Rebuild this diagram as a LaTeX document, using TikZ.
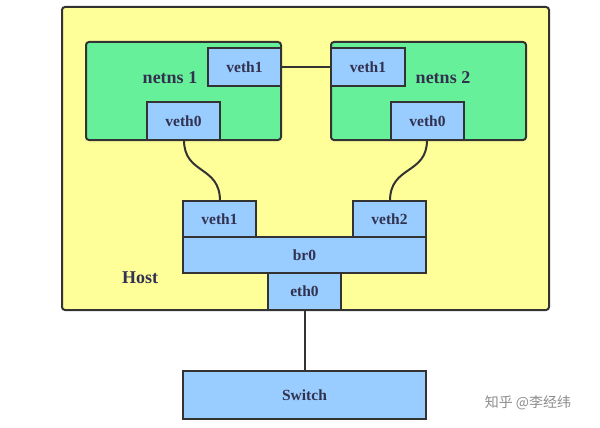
\documentclass[tikz,border=0pt]{standalone}
\usepackage{fontspec}
\setmainfont{Liberation Serif}
\newfontfamily\cjk{Noto Sans CJK SC}
\begin{document}
\begin{tikzpicture}[x=1pt,y=-1pt,
  ln/.style={draw=black!80, line width=2pt},
  boxb/.style={ln, fill={rgb,255:red,153;green,204;blue,255}},
  lbl/.style={font=\bfseries\fontsize{15.5}{17}\selectfont, text={rgb,255:red,50;green,50;blue,80}},
  big/.style={font=\bfseries\fontsize{18}{20}\selectfont, text={rgb,255:red,50;green,50;blue,80}}]
\useasboundingbox (0,0) rectangle (600,428);
\definecolor{hostc}{RGB}{255,255,153}
\definecolor{nsc}{RGB}{102,240,153}
\draw[ln, fill=hostc, rounded corners=3pt] (62,7) rectangle (549,310);
\draw[ln, fill=nsc, rounded corners=3pt] (86,42) rectangle (281,140);
\draw[ln, fill=nsc, rounded corners=3pt] (331,42) rectangle (526,140);
\node[big] (n1) at (170,78) {netns 1};
\node[big] (n2) at (443,78) {netns 2};
\node[big] (host) at (140,278) {Host};
\draw[boxb] (208,48) rectangle (281,86); \node[lbl] (a1) at (244.5,67) {veth1};
\draw[boxb] (331,48) rectangle (405,86); \node[lbl] (b1) at (368,67) {veth1};
\draw[boxb] (147,102) rectangle (220,140); \node[lbl] (a0) at (183.5,121) {veth0};
\draw[boxb] (391,102) rectangle (464,140); \node[lbl] (b0) at (427.5,121) {veth0};
\draw[boxb] (183,201) rectangle (256,237); \node[lbl] (c1) at (219.5,219) {veth1};
\draw[boxb] (353,201) rectangle (426,237); \node[lbl] (c2) at (389.5,219) {veth2};
\draw[boxb] (183,237) rectangle (426,273); \node[lbl] (br) at (304.5,255) {br0};
\draw[boxb] (268,273) rectangle (341,310); \node[lbl] (eth) at (304.5,291.5) {eth0};
\draw[boxb] (183,371) rectangle (426,419); \node[lbl] (sw) at (304.5,395) {Switch};
\coordinate (p1) at (281,67); \coordinate (p2) at (331,67);
\draw[ln] (p1) -- (p2);
\coordinate (q1) at (184,140); \coordinate (q2) at (220,201);
\draw[ln] (q1) .. controls (184,175) and (220,165) .. (q2);
\coordinate (r1) at (427,140); \coordinate (r2) at (390,201);
\draw[ln] (r1) .. controls (427,175) and (390,165) .. (r2);
\coordinate (e1) at (304.5,310); \coordinate (e2) at (304.5,371);
\draw[ln] (e1) -- (e2);
\node[font=\cjk\fontsize{14}{16}\selectfont, text=black!45] (wm) at (528,403) {知乎 @李经纬};
\end{tikzpicture}
\end{document}
